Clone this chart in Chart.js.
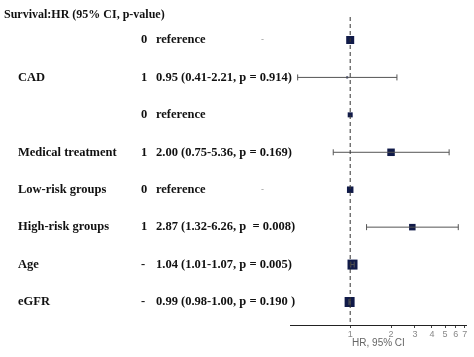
<!DOCTYPE html>
<html><head><meta charset="utf-8">
<script src="https://cdn.jsdelivr.net/npm/chart.js@4"></script>
<style>html,body{margin:0;padding:0;background:#fff}#w{width:474px;height:357px}</style>
</head><body><div id="w"><canvas id="c"></canvas></div>
<script>
// ---- data ----
const chartTitle = 'Survival:HR (95% CI, p-value)';
const names = ['', 'CAD', '', 'Medical treatment', 'Low-risk groups', 'High-risk groups', 'Age', 'eGFR'];
const codes = ['0', '1', '0', '1', '0', '1', '-', '-'];
const estimates = ['reference', '0.95 (0.41-2.21, p = 0.914)', 'reference', '2.00 (0.75-5.36, p = 0.169)',
  'reference', '2.87 (1.32-6.26, p  = 0.008)', '1.04 (1.01-1.07, p = 0.005)', '0.99 (0.98-1.00, p = 0.190 )'];
const marks = ['-', '', '', '', '-', '', '', ''];
const hr = [1, 0.95, 1, 2.00, 1, 2.87, 1.04, 0.99];
const lo = [null, 0.41, null, 0.75, null, 1.32, 1.01, 0.98];
const hi = [null, 2.21, null, 5.36, null, 6.26, 1.07, 1.00];
const xTicks = [1, 2, 3, 4, 5, 6, 7];
const xTitle = 'HR, 95% CI';
const nullEffect = 1;

// ---- styles ----
const boxSide = [8, 2, 5, 7.5, 6.5, 6.5, 10, 10];
const yMin = -0.614, yMax = 7.614;
const serif = '"Liberation Serif","Times New Roman",serif';
const sans = '"Liberation Sans",Arial,sans-serif';
const textFont = {family: serif, weight: 'bold', size: 12.5};

function yAxis(labels, width, weight, font, color, show, mirror) {
  return {
    type: 'linear', position: 'left', min: yMin, max: yMax, reverse: true, weight: weight,
    afterBuildTicks: s => { s.ticks = labels.map((_, i) => ({value: i})); },
    afterFit: s => { s.width = width; },
    grid: {display: false}, border: {display: false},
    ticks: {display: show, mirror: !!mirror, crossAlign: mirror ? 'near' : 'far', font: font, color: color,
      autoSkip: false, padding: 0, callback: v => labels[Math.round(v)] || ''}
  };
}

const datasets = [];
datasets.push({
  type: 'line', data: [{x: nullEffect, y: yMin}, {x: nullEffect, y: yMax}],
  borderColor: '#333', borderWidth: 1, borderDash: [4, 3], pointRadius: 0, yAxisID: 'y', xAxisID: 'x'
});
hr.forEach((v, i) => {
  if (lo[i] == null) return;
  datasets.push({
    type: 'line', data: [{x: lo[i], y: i}, {x: hi[i], y: i}],
    borderColor: '#555', borderWidth: 1, pointStyle: 'line', pointRotation: 90, pointRadius: 3,
    pointBorderColor: '#555', pointBorderWidth: 1, yAxisID: 'y', xAxisID: 'x'
  });
});
datasets.push({
  type: 'scatter', data: hr.map((v, i) => ({x: v, y: i})),
  pointStyle: 'rect', pointRadius: boxSide.map(s => s / Math.SQRT2),
  backgroundColor: '#101a48', borderColor: '#101a48', borderWidth: 0, yAxisID: 'y', xAxisID: 'x'
});

new Chart(document.getElementById('c'), {
  type: 'scatter',
  data: {datasets},
  options: {
    responsive: true, maintainAspectRatio: false, animation: false, events: [],
    layout: {padding: {left: 4, right: 7, top: 0, bottom: 0}},
    plugins: {
      legend: {display: false}, tooltip: {enabled: false},
      title: {display: true, text: chartTitle, align: 'start', color: '#111',
        font: {family: serif, weight: 'bold', size: 12}, padding: {top: 8, bottom: -5.4}}
    },
    scales: {
      ySpace: yAxis([], 14, 9, textFont, '#111', false),
      yName: yAxis(names, 123, 8, textFont, '#111', true),
      yCode: yAxis(codes, 15, 7, textFont, '#111', true),
      yEst: yAxis(estimates, 0, 6, textFont, '#111', true, true),
      y: yAxis([], 105, 5, textFont, '#111', false),
      yMark: yAxis(marks, 29, 4, {family: sans, size: 9}, '#999', true),
      x: {
        type: 'logarithmic', position: 'bottom', min: 0.36, max: 7.25,
        afterBuildTicks: s => { s.ticks = xTicks.map(v => ({value: v})); },
        afterFit: s => { s.height = 32; },
        grid: {display: true, drawOnChartArea: false, drawTicks: true, tickLength: 3, color: '#444'},
        border: {display: true, color: '#222', width: 1},
        ticks: {font: {family: sans, size: 9}, color: '#888', padding: 1, autoSkip: false, maxRotation: 0,
          callback: v => String(v)},
        title: {display: true, text: xTitle, font: {family: sans, size: 10}, color: '#666',
          padding: {top: 0, bottom: 8}}
      }
    }
  }
});
</script>
</body></html>
